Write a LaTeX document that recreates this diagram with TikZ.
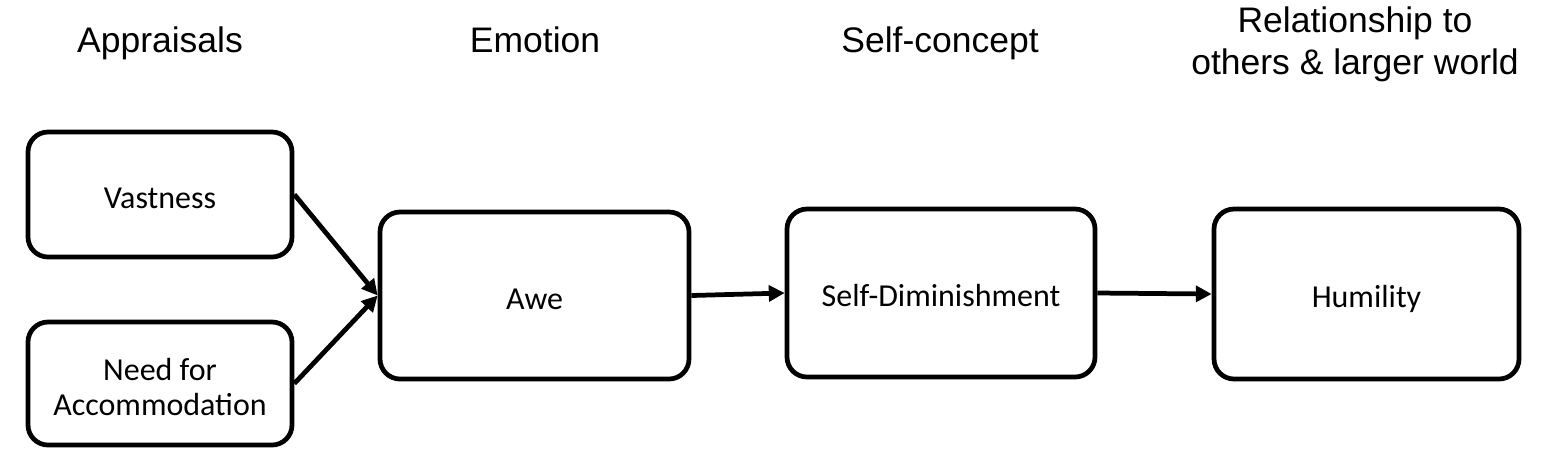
\documentclass[tikz,border=0pt]{standalone}
\usepackage{fontspec}
\setmainfont{Carlito}
\newfontfamily\headfont{Liberation Sans}
\usetikzlibrary{arrows.meta}

\begin{document}
\begin{tikzpicture}[
    >={Triangle[length=4.5pt,width=4.5pt]},
    box/.style={draw, line width=1.35pt, rounded corners=0.2cm, align=center,
        text height=7.7pt, text depth=0pt,
        font=\fontsize{9.1}{10}\selectfont},
    head/.style={align=center, anchor=base, font=\headfont\fontsize{10.1}{11.7}\selectfont},
    link/.style={->, line width=1.35pt}
]
\useasboundingbox (0,0) rectangle (15.45,-4.61);

% Column headings
\node[head] (happr) at (1.60,-0.52) {Appraisals};
\node[head] (hemot) at (5.35,-0.52) {Emotion};
\node[head] (hself) at (9.40,-0.52) {Self-concept};
\node[head] (hrel)  at (13.55,-0.74) {Relationship to\\others \& larger world};

% Boxes
\node[box, minimum width=2.64cm, minimum height=1.25cm] (vast) at (1.60,-1.945) {Vastness};
\node[box, minimum width=2.64cm, minimum height=1.23cm, text height=18pt] (need) at (1.60,-3.835) {Need for\\Accommodation};
\node[box, minimum width=3.09cm, minimum height=1.67cm] (awe)  at (5.345,-2.955) {Awe};
\node[box, minimum width=3.08cm, minimum height=1.68cm] (dimin) at (9.41,-2.93) {Self-Diminishment};
\node[box, minimum width=3.05cm, minimum height=1.70cm] (humil) at (13.665,-2.94) {Humility};

% Arrows
\draw[link] (vast.east) -- (awe.west);
\draw[link] (need.east) -- (awe.west);
\draw[link] (awe.east) -- (dimin.west);
\draw[link] (dimin.east) -- (humil.west);

\end{tikzpicture}
\end{document}
